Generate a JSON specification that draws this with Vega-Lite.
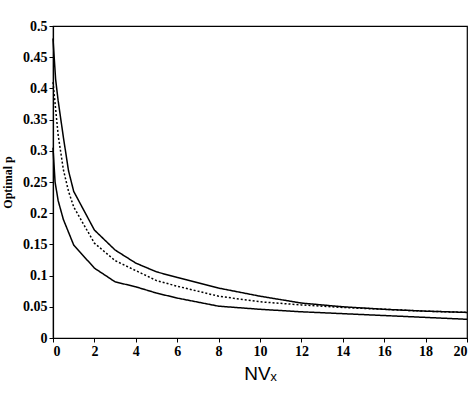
{
  "$schema": "https://vega.github.io/schema/vega-lite/v6.json",
  "autosize": "none",
  "width": 414,
  "height": 312,
  "padding": {"left": 53, "top": 26, "right": 7, "bottom": 59},
  "background": "white",
  "config": {
    "view": {"stroke": "black", "strokeWidth": 1.2},
    "axis": {
      "domainColor": "black",
      "tickColor": "black",
      "labelColor": "black",
      "titleColor": "black",
      "grid": false,
      "labelFont": "Liberation Serif",
      "labelFontWeight": "bold",
      "labelFontSize": 14,
      "tickSize": 4,
      "domainWidth": 1.2
    }
  },
  "data": {
    "values": [
      {"series": "upper", "x": 0, "p": 0.48},
      {"series": "upper", "x": 0.125, "p": 0.415},
      {"series": "upper", "x": 0.25, "p": 0.38},
      {"series": "upper", "x": 0.5, "p": 0.322},
      {"series": "upper", "x": 0.75, "p": 0.268},
      {"series": "upper", "x": 1, "p": 0.235},
      {"series": "upper", "x": 2, "p": 0.173},
      {"series": "upper", "x": 3, "p": 0.141},
      {"series": "upper", "x": 4, "p": 0.12},
      {"series": "upper", "x": 5, "p": 0.106},
      {"series": "upper", "x": 6, "p": 0.097},
      {"series": "upper", "x": 8, "p": 0.08},
      {"series": "upper", "x": 10, "p": 0.067},
      {"series": "upper", "x": 12, "p": 0.056},
      {"series": "upper", "x": 14, "p": 0.05},
      {"series": "upper", "x": 16, "p": 0.046},
      {"series": "upper", "x": 18, "p": 0.043},
      {"series": "upper", "x": 20, "p": 0.041},
      {"series": "middle", "x": 0, "p": 0.41},
      {"series": "middle", "x": 0.25, "p": 0.325},
      {"series": "middle", "x": 0.5, "p": 0.27},
      {"series": "middle", "x": 0.75, "p": 0.235},
      {"series": "middle", "x": 1, "p": 0.21},
      {"series": "middle", "x": 2, "p": 0.152},
      {"series": "middle", "x": 3, "p": 0.124},
      {"series": "middle", "x": 4, "p": 0.108},
      {"series": "middle", "x": 5, "p": 0.092},
      {"series": "middle", "x": 6, "p": 0.083},
      {"series": "middle", "x": 8, "p": 0.067},
      {"series": "middle", "x": 10, "p": 0.058},
      {"series": "middle", "x": 12, "p": 0.053},
      {"series": "middle", "x": 14, "p": 0.049},
      {"series": "middle", "x": 16, "p": 0.046},
      {"series": "middle", "x": 18, "p": 0.043},
      {"series": "middle", "x": 20, "p": 0.041},
      {"series": "lower", "x": 0, "p": 0.305},
      {"series": "lower", "x": 0.1, "p": 0.25},
      {"series": "lower", "x": 0.25, "p": 0.22},
      {"series": "lower", "x": 0.5, "p": 0.19},
      {"series": "lower", "x": 1, "p": 0.149},
      {"series": "lower", "x": 2, "p": 0.112},
      {"series": "lower", "x": 3, "p": 0.09},
      {"series": "lower", "x": 4, "p": 0.082},
      {"series": "lower", "x": 5, "p": 0.072},
      {"series": "lower", "x": 6, "p": 0.064},
      {"series": "lower", "x": 8, "p": 0.051},
      {"series": "lower", "x": 10, "p": 0.046},
      {"series": "lower", "x": 12, "p": 0.042},
      {"series": "lower", "x": 14, "p": 0.039},
      {"series": "lower", "x": 16, "p": 0.036},
      {"series": "lower", "x": 18, "p": 0.033},
      {"series": "lower", "x": 20, "p": 0.03}
    ]
  },
  "mark": {"type": "line", "color": "black", "strokeWidth": 1.5},
  "encoding": {
    "x": {
      "field": "x",
      "type": "quantitative",
      "scale": {"domain": [0, 20], "nice": false},
      "axis": {
        "values": [0, 2, 4, 6, 8, 10, 12, 14, 16, 18, 20],
        "title": "NVₓ",
        "titleFont": "Liberation Sans",
        "titleFontSize": 19,
        "titleFontWeight": "normal",
        "titlePadding": 6,
        "labelPadding": 2
      }
    },
    "y": {
      "field": "p",
      "type": "quantitative",
      "scale": {"domain": [0, 0.5], "nice": false},
      "axis": {
        "values": [0, 0.05, 0.1, 0.15, 0.2, 0.25, 0.3, 0.35, 0.4, 0.45, 0.5],
        "format": "~g",
        "title": "Optimal p",
        "titleFont": "Liberation Serif",
        "titleFontWeight": "bold",
        "titleFontSize": 12,
        "titlePadding": 8,
        "labelPadding": 2
      }
    },
    "detail": {"field": "series"},
    "strokeDash": {
      "field": "series",
      "type": "nominal",
      "scale": {"domain": ["upper", "middle", "lower"], "range": [[1, 0], [2, 2], [1, 0]]},
      "legend": null
    }
  }
}
